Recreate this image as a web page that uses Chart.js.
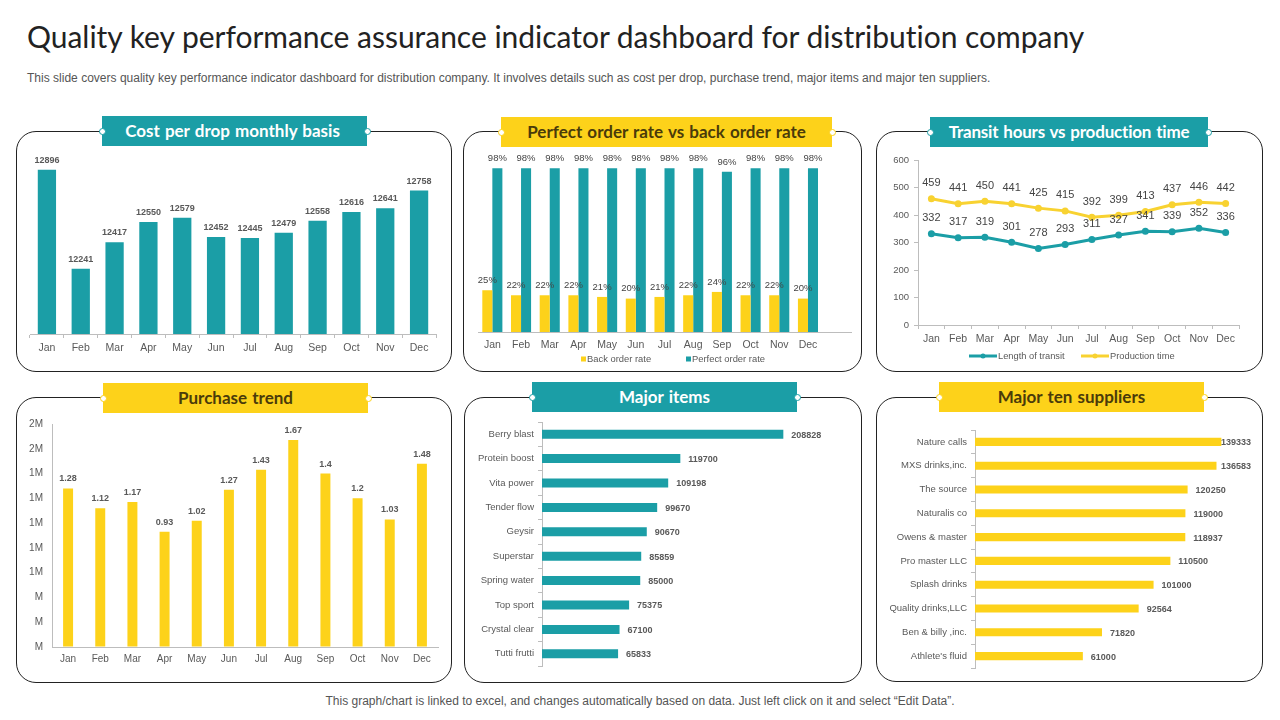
<!DOCTYPE html>
<html>
<head>
<meta charset="utf-8">
<script src="https://cdn.jsdelivr.net/npm/chart.js@4"></script>
<style>
html,body{margin:0;padding:0;background:#fff;width:1280px;height:720px;overflow:hidden;font-family:"Liberation Sans",Arial,sans-serif}
.t{position:absolute;white-space:nowrap}
#title{left:27px;top:16px;font:400 30px/40px Lato,sans-serif;color:#222;letter-spacing:-.02px}
#sub{left:27px;top:71px;font:12px/15px "Liberation Sans";color:#555;letter-spacing:.01px}
#foot{left:0;width:1280px;text-align:center;top:694px;font:12px/15px "Liberation Sans";color:#555}
.panel{position:absolute;box-sizing:border-box;border:1.3px solid #222;border-radius:20px;background:#fff}
.head{position:absolute;text-align:center;font:700 17px/30px Lato,sans-serif;word-spacing:1px;box-sizing:border-box}
.dot{position:absolute;width:7px;height:7px;box-sizing:border-box;border-radius:50%;background:#fff;border-width:1.5px;border-style:solid}
canvas{position:absolute}
</style>
</head>
<body>
<div class="t" id="title">Quality key performance assurance indicator dashboard for distribution company</div>
<div class="t" id="sub">This slide covers quality key performance indicator dashboard for distribution company. It involves details such as cost per drop, purchase trend, major items and major ten suppliers.</div>
<div class="t" id="foot">This graph/chart is linked to excel,  and changes automatically based on data. Just left click on it and select “Edit Data”.</div>
<script>
const months = ["Jan","Feb","Mar","Apr","May","Jun","Jul","Aug","Sep","Oct","Nov","Dec"];
const monthsWithGap = months.concat([""]);
const costPerDrop = [12896,12241,12417,12550,12579,12452,12445,12479,12558,12616,12641,12758];
const backOrderRate = [25,22,22,22,21,20,21,22,24,22,22,20];
const perfectOrderRate = [98,98,98,98,98,98,98,98,96,98,98,98];
const lengthOfTransit = [332,317,319,301,278,293,311,327,341,339,352,336];
const productionTime = [459,441,450,441,425,415,392,399,413,437,446,442];
const purchaseTrend = [1.28,1.12,1.17,0.93,1.02,1.27,1.43,1.67,1.4,1.2,1.03,1.48];
const purchaseTicks = ["M","M","M","1M","1M","1M","1M","1M","2M","2M"];
const itemNames = ["Berry blast","Protein boost","Vita power","Tender flow","Geysir","Superstar","Spring water","Top sport","Crystal clear","Tutti frutti"];
const itemValues = [208828,119700,109198,99670,90670,85859,85000,75375,67100,65833];
const supplierNames = ["Nature calls","MXS drinks,inc.","The source","Naturalis co","Owens & master","Pro master LLC","Splash drinks","Quality drinks,LLC","Ben & billy ,inc.","Athlete's fluid"];
const supplierValues = [139333,136583,120250,119000,118937,110500,101000,92564,71820,61000];

const TEAL="#1B9EA6", YELLOW="#FDD21A", LINEY="#F8D231", AXIS="#BDBDBD", TXT="#595959", DARK="#4A3B0A";
const FF='"Liberation Sans", Arial, sans-serif';

function panel(x,y,r,b){const d=document.createElement('div');d.className='panel';
  d.style.cssText=`left:${x}px;top:${y}px;width:${r-x}px;height:${b-y}px`;document.body.appendChild(d);}
function header(txt,x,y,r,col,ls,shift){const d=document.createElement('div');d.className='head t';
  const yel=col===YELLOW;
  d.style.cssText=`left:${x}px;top:${y}px;width:${r-x}px;height:30px;background:${col};color:${yel?DARK:'#fff'};letter-spacing:${ls||0}px;padding-right:${shift||0}px`;
  d.textContent=txt;
  document.body.appendChild(d);
  [x,r].forEach(cx=>{const o=document.createElement('div');o.className='dot';
    o.style.cssText=`left:${cx-3.5}px;top:${y+11.5}px;border-color:${col}`;document.body.appendChild(o);});
}
const valueLabels={id:'valueLabels',afterDatasetsDraw(chart,_,o){
  if(!o.font) return;
  const c=chart.ctx;c.save();c.font=o.font;c.fillStyle=o.color||TXT;
  chart.data.datasets.forEach((ds,i)=>{
    const meta=chart.getDatasetMeta(i);
    meta.data.forEach((el,k)=>{
      const s=String(ds.data[k])+(o.suffix||'');
      if(o.horizontal){
        c.textAlign='left';c.textBaseline='middle';
        const w=c.measureText(s).width;
        const lx=Math.min(el.x+o.offset,chart.chartArea.right-w);
        c.fillText(s,lx,el.y+1);
      }else{
        c.textAlign='center';c.textBaseline='bottom';
        c.fillText(s,el.x,el.y-o.offset);
      }
    });
  });
  c.restore();
}};
const panelLegend={id:'panelLegend',afterDraw(chart,_,o){
  if(!o.marks) return;
  const c=chart.ctx,box=chart.canvas.getBoundingClientRect();c.save();
  c.font=o.font;c.fillStyle=TXT;c.textAlign='left';c.textBaseline='middle';
  chart.data.datasets.forEach((ds,i)=>{
    const x=o.marks[i]-box.left,y=o.y-box.top,col=ds.backgroundColor;
    if(o.line){
      c.strokeStyle=col;c.lineWidth=3;c.beginPath();c.moveTo(x,y);c.lineTo(x+28,y);c.stroke();
      c.fillStyle=col;c.beginPath();c.arc(x+14,y,2.5,0,7);c.fill();
      c.fillStyle=TXT;c.fillText(ds.label,x+29,y);
    }else{
      c.fillStyle=col;c.fillRect(x,y-2.5,5,5);
      c.fillStyle=TXT;c.fillText(ds.label,x+6,y);
    }
  });
  c.restore();
}};
function make(type,cv,plot,data,opt){
  const [cl,ct,cr,cb]=cv,[pl,pt,pr,pb]=plot;
  const el=document.createElement('canvas');
  el.style.cssText=`left:${cl}px;top:${ct}px;width:${cr-cl}px;height:${cb-ct}px`;
  el.width=cr-cl;el.height=cb-ct;document.body.appendChild(el);
  const xs=opt.x,ys=opt.y;
  if(xs.display!==false) xs.afterFit=s=>{s.height=cb-pb;};
  if(ys.display!==false) ys.afterFit=s=>{s.width=pl-cl;};
  return new Chart(el,{type,data,plugins:[valueLabels,panelLegend],options:{
    responsive:false,animation:false,devicePixelRatio:1,indexAxis:opt.indexAxis||'x',
    layout:{padding:{left:ys.display===false?pl-cl:0,top:pt-ct,right:cr-pr,bottom:xs.display===false?cb-pb:0}},
    plugins:{legend:{display:false},tooltip:{enabled:false},valueLabels:opt.labels||{},panelLegend:opt.legend||{}},
    scales:{x:xs,y:ys}
  }});
}
function catAxis(size,pad,tick){return {type:'category',offset:true,
  border:{color:AXIS,width:1},
  grid:{drawOnChartArea:false,drawTicks:!!tick,tickLength:tick||0,color:AXIS,offset:true},
  ticks:{font:{family:FF,size},color:TXT,padding:pad,autoSkip:false,maxRotation:0,minRotation:0}};}

panel(16,131,452,372);panel(463,131,862,372);panel(876,131,1263,372);
panel(16,397,452,683);panel(464,397,862,683);panel(876,397,1263,682);
header("Cost per drop monthly basis",102,116,367,TEAL,0,4);
header("Perfect order rate vs back order rate",501,117,832,YELLOW);
header("Transit hours vs production time",930,117,1208,TEAL,-.2);
header("Purchase trend",103,383,368,YELLOW);
header("Major items",532,382,797,TEAL);
header("Major ten suppliers",939,382,1204,YELLOW);

make('bar',[20,135,448,368],[30,154,436,334],
 {labels:months,datasets:[{label:"Cost per drop",data:costPerDrop,backgroundColor:TEAL,categoryPercentage:.54,barPercentage:1}]},
 {x:catAxis(10.5,4,4),y:{display:false,min:11810,max:13000},
  labels:{font:`bold 9px ${FF}`,offset:5}});

make('bar',[467,135,879,368],[478,165,851,332],
 {labels:monthsWithGap,datasets:[
  {label:"Back order rate",data:backOrderRate,backgroundColor:YELLOW,categoryPercentage:.7,barPercentage:1},
  {label:"Perfect order rate",data:perfectOrderRate,backgroundColor:TEAL,categoryPercentage:.7,barPercentage:1}]},
 {x:catAxis(10.5,7,0),y:{display:false,min:0,max:100},
  labels:{font:`9.5px ${FF}`,offset:5,suffix:'%',color:'#444'},
  legend:{font:`9.4px ${FF}`,y:359,marks:[581,686]}});

make('line',[880,135,1260,368],[918,160,1239,325],
 {labels:months,datasets:[
  {label:"Length of transit",data:lengthOfTransit,borderColor:TEAL,backgroundColor:TEAL,borderWidth:3,pointRadius:3.5,pointBackgroundColor:TEAL,pointBorderWidth:0,tension:0},
  {label:"Production time",data:productionTime,borderColor:LINEY,backgroundColor:LINEY,borderWidth:3,pointRadius:3.5,pointBackgroundColor:LINEY,pointBorderWidth:0,tension:0}]},
 {x:catAxis(10.5,4,4),
  y:{min:0,max:600,border:{color:AXIS},grid:{drawOnChartArea:false,tickLength:4,color:AXIS},
     ticks:{stepSize:100,font:{family:FF,size:9.5},color:TXT,padding:5}},
  labels:{font:`11px ${FF}`,offset:10,color:'#444'},
  legend:{font:`9.3px ${FF}`,y:356,line:true,marks:[969,1081]}});

make('bar',[20,401,448,679],[52,424,438,647],
 {labels:months,datasets:[{label:"Purchase",data:purchaseTrend,backgroundColor:YELLOW,categoryPercentage:.31,barPercentage:1}]},
 {x:catAxis(10,6,0),
  y:{min:0,max:1.8,border:{color:AXIS},grid:{drawOnChartArea:false,drawTicks:false},
     ticks:{stepSize:.2,font:{family:FF,size:10},color:TXT,padding:9,callback:(v,i)=>purchaseTicks[i]}},
  labels:{font:`bold 9px ${FF}`,offset:5}});

make('bar',[468,401,858,679],[542,422,842,666],
 {labels:itemNames,datasets:[{label:"Major items",data:itemValues,backgroundColor:TEAL,categoryPercentage:.37,barPercentage:1}]},
 {indexAxis:'y',y:catAxis(9.5,4,4),x:{display:false,min:0,max:259600},
  labels:{font:`bold 9px ${FF}`,offset:8,horizontal:true}});

make('bar',[880,401,1260,679],[975,430,1251,668],
 {labels:supplierNames,datasets:[{label:"Major ten suppliers",data:supplierValues,backgroundColor:YELLOW,categoryPercentage:.34,barPercentage:1}]},
 {indexAxis:'y',y:catAxis(9.5,4,4),x:{display:false,min:0,max:156100},
  labels:{font:`bold 9px ${FF}`,offset:8,horizontal:true}});
</script>
</body>
</html>
